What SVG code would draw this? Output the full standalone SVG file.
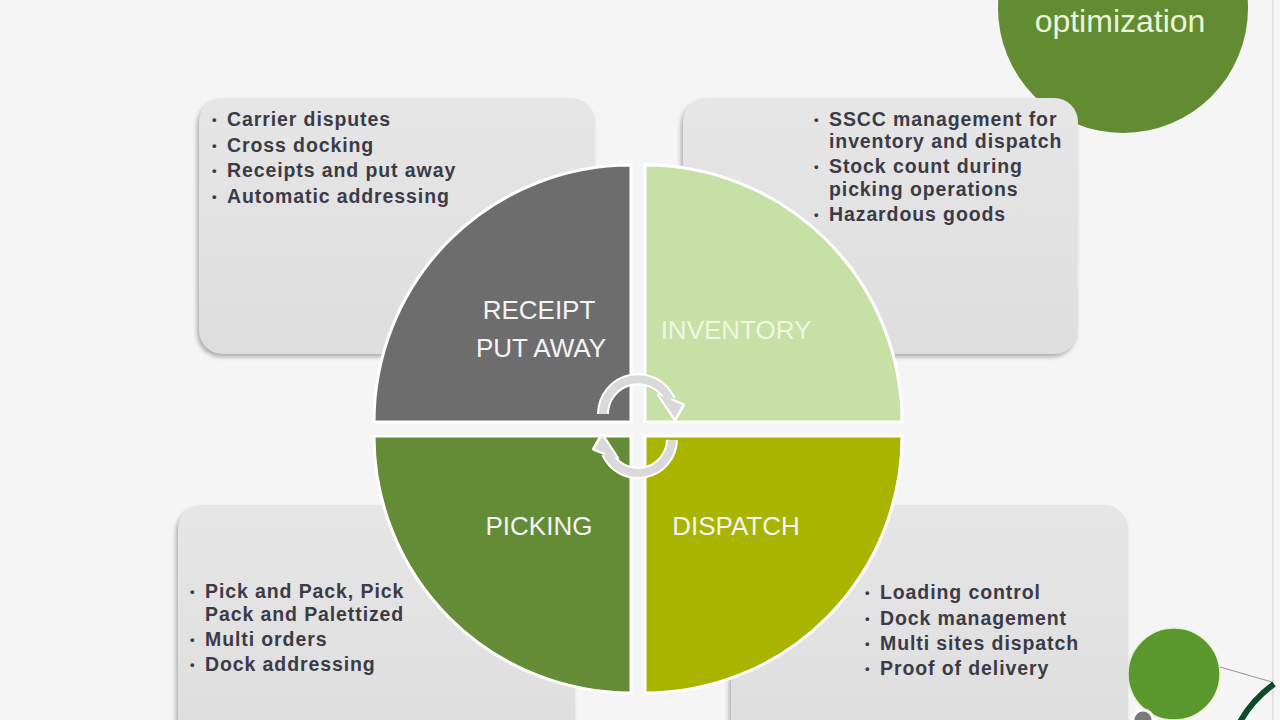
<svg xmlns="http://www.w3.org/2000/svg" width="1280" height="720" viewBox="0 0 1280 720">
<defs>
<linearGradient id="boxg" x1="0" y1="0" x2="0" y2="1">
<stop offset="0" stop-color="#e6e6e6"/><stop offset="1" stop-color="#dedede"/>
</linearGradient>
<filter id="sh" x="-10%" y="-10%" width="120%" height="120%">
<feDropShadow dx="-2" dy="3" stdDeviation="2" flood-color="#8f8f8f" flood-opacity="0.7"/>
</filter>
</defs>
<style>
.box{fill:url(#boxg);filter:url(#sh);}
.it{font-family:"Liberation Sans",Arial,sans-serif;font-weight:bold;font-size:19.5px;letter-spacing:0.9px;fill:#3b3b47;}
.bu{font-family:"Liberation Sans",Arial,sans-serif;font-weight:bold;font-size:13px;fill:#3b3b47;}
.ql{font-family:"Liberation Sans",Arial,sans-serif;font-size:26px;fill:#f4f4f4;text-anchor:middle;}
.q{stroke:#ffffff;stroke-width:3;}
.arr{fill:none;stroke-linecap:butt;}
</style>
<rect width="1280" height="720" fill="#f5f5f5"/>
<line x1="1273" y1="0" x2="1273" y2="720" stroke="#e2e2e2" stroke-width="2"/>

<g id="opt-circle">
<circle cx="1123" cy="8" r="125" fill="#618c31"/>
<text x="1120" y="32" font-family="Liberation Sans, Arial, sans-serif" font-size="32" fill="#eaf5d8" text-anchor="middle">optimization</text>
</g>

<g id="deco-br">
<circle cx="1174" cy="674" r="46" fill="#5a982d" stroke="#e8f0d8" stroke-width="1.5"/>
<line x1="1220" y1="667" x2="1272" y2="682" stroke="#9a9a9a" stroke-width="1.2"/>
<path d="M1274,684 Q1252,700 1240,722" fill="none" stroke="#0f4a2a" stroke-width="6"/>
<circle cx="1143" cy="720" r="10" fill="#7a7a7a" stroke="#ffffff" stroke-width="3"/>
</g>

<g id="box-receipt">
<rect class="box" x="199" y="98" width="396" height="256" rx="24"/>
<text class="bu" x="212" y="124">•</text><text class="it" x="227" y="126">Carrier disputes</text>
<text class="bu" x="212" y="150">•</text><text class="it" x="227" y="152">Cross docking</text>
<text class="bu" x="212" y="175">•</text><text class="it" x="227" y="177">Receipts and put away</text>
<text class="bu" x="212" y="201">•</text><text class="it" x="227" y="203">Automatic addressing</text>
</g>

<g id="box-inventory">
<rect class="box" x="683" y="98" width="395" height="256" rx="24"/>
<text class="bu" x="814" y="124">•</text><text class="it" x="829" y="126">SSCC management for</text>
<text class="it" x="829" y="148">inventory and dispatch</text>
<text class="bu" x="814" y="171">•</text><text class="it" x="829" y="173">Stock count during</text>
<text class="it" x="829" y="196">picking operations</text>
<text class="bu" x="814" y="219">•</text><text class="it" x="829" y="221">Hazardous goods</text>
</g>

<g id="box-picking">
<rect class="box" x="178" y="505" width="397" height="240" rx="24"/>
<text class="bu" x="190" y="596">•</text><text class="it" x="205" y="598">Pick and Pack, Pick</text>
<text class="it" x="205" y="621">Pack and Palettized</text>
<text class="bu" x="190" y="644">•</text><text class="it" x="205" y="646">Multi orders</text>
<text class="bu" x="190" y="669">•</text><text class="it" x="205" y="671">Dock addressing</text>
</g>

<g id="box-dispatch">
<rect class="box" x="731" y="505" width="397" height="240" rx="24"/>
<text class="bu" x="865" y="597">•</text><text class="it" x="880" y="599">Loading control</text>
<text class="bu" x="865" y="623">•</text><text class="it" x="880" y="625">Dock management</text>
<text class="bu" x="865" y="648">•</text><text class="it" x="880" y="650">Multi sites dispatch</text>
<text class="bu" x="865" y="673">•</text><text class="it" x="880" y="675">Proof of delivery</text>
</g>

<g id="q-receipt">
<path class="q" d="M631,422 L374,422 A257,257 0 0 1 631,165 Z" fill="#6d6d6d"/>
<text class="ql" x="539" y="319">RECEIPT</text>
<text class="ql" x="541" y="357">PUT AWAY</text>
</g>
<g id="q-inventory">
<path class="q" d="M645,422 L645,165 A257,257 0 0 1 902,422 Z" fill="#c6e0a6"/>
<text class="ql" x="736" y="339" style="fill:#eef6e4">INVENTORY</text>
</g>
<g id="q-picking">
<path class="q" d="M631,436 L631,693 A257,257 0 0 1 374,436 Z" fill="#648b35"/>
<text class="ql" x="539" y="535">PICKING</text>
</g>
<g id="q-dispatch">
<path class="q" d="M645,436 L902,436 A257,257 0 0 1 645,693 Z" fill="#a8b400"/>
<text class="ql" x="736" y="535">DISPATCH</text>
</g>

<g id="connectors">
<path class="arr" d="M603,414 A35,35 0 0 1 670,400" stroke="#ffffff" stroke-width="12"/>
<polygon points="659,395 683,405 675,419" fill="#ffffff" stroke="#ffffff" stroke-width="4" stroke-linejoin="round"/>
<path class="arr" d="M603,414 A35,35 0 0 1 670,400" stroke="#d9d9d9" stroke-width="8"/>
<polygon points="659,395 682,405 675,418" fill="#d9d9d9"/>
<path class="arr" d="M672,440 A34,34 0 0 1 607,453" stroke="#ffffff" stroke-width="12"/>
<polygon points="617,458 594,449 602,435" fill="#ffffff" stroke="#ffffff" stroke-width="4" stroke-linejoin="round"/>
<path class="arr" d="M672,440 A34,34 0 0 1 607,453" stroke="#d9d9d9" stroke-width="8"/>
<polygon points="617,458 595,449 602,436" fill="#d9d9d9"/>
</g>
</svg>
